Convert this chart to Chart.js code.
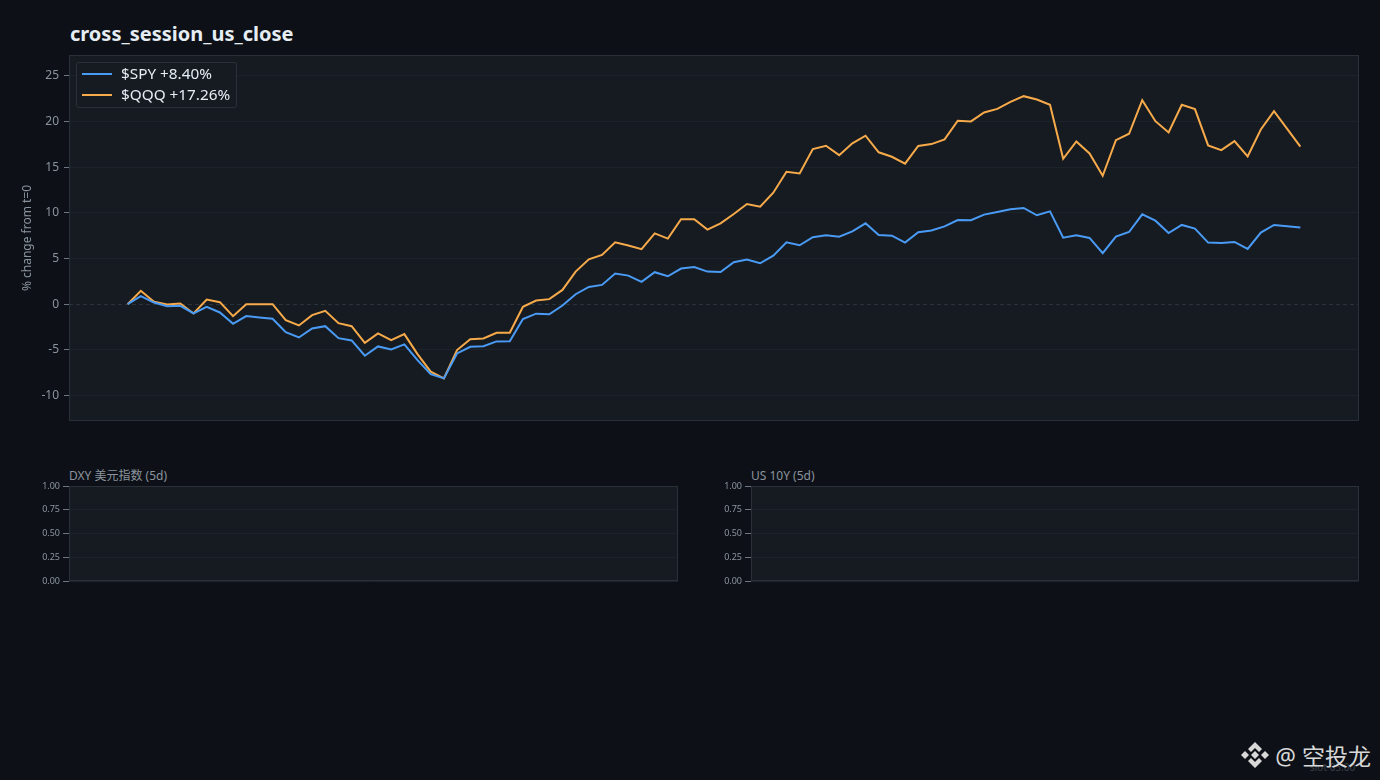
<!DOCTYPE html>
<html>
<head>
<meta charset="utf-8">
<title>cross_session_us_close</title>
<script src="https://cdn.jsdelivr.net/npm/chart.js@4.4.1/dist/chart.umd.min.js"></script>
<style>
  html, body { margin: 0; padding: 0; background: #0d1117; }
  body {
    width: 1380px; height: 780px; position: relative; overflow: hidden;
    font-family: 'Noto Sans', 'Noto Sans CJK SC', sans-serif;
  }
  .abs { position: absolute; }
  #title { left: 70px; top: 24px; font-size: 20px; line-height: 20px; font-weight: bold; color: #e6edf3; }
  .sub { font-size: 12px; line-height: 12px; color: #8b949e; top: 470px; }
  #legend {
    left: 76px; top: 62px; width: 159px; height: 44px;
    background: #161b22; border: 1px solid #2a3038; border-radius: 3px;
  }
  .item { display: flex; align-items: center; height: 21px; }
  .swatch { width: 30px; height: 2px; margin-left: 5px; margin-right: 9px; }
  .item span { font-size: 15.3px; color: #e6edf3; line-height: 21px; }
  #mark { right: 9px; top: 738px; font-size: 23px; color: #d8d8d8; display: flex; align-items: center; }
  #slot { left: 1310px; top: 760px; font-size: 10px; color: #3b4048; }
</style>
</head>
<body>
<div id="title" class="abs">cross_session_us_close</div>

<div class="abs" style="left:0; top:42px; width:1380px; height:392px;"><canvas id="mainChart"></canvas></div>
<div id="legend" class="abs"></div>

<div class="abs sub" style="left:69px;">DXY 美元指数 (5d)</div>
<div class="abs" style="left:0; top:476px; width:690px; height:115px;"><canvas id="dxyChart"></canvas></div>

<div class="abs sub" style="left:751px;">US 10Y (5d)</div>
<div class="abs" style="left:682px; top:476px; width:690px; height:115px;"><canvas id="tenChart"></canvas></div>

<div id="slot" class="abs">slot 05:00</div>
<div id="mark" class="abs">
  <svg width="28" height="28" viewBox="0 0 28 28" style="margin-right:6px">
    <g fill="#d8d8d8">
      <polygon points="14,1 21,8 18,11 14,7 10,11 7,8"/>
      <polygon points="14,27 21,20 18,17 14,21 10,17 7,20"/>
      <polygon points="4,10 8,14 4,18 0,14"/>
      <polygon points="24,10 28,14 24,18 20,14"/>
      <polygon points="14,10 18,14 14,18 10,14"/>
    </g>
  </svg>
  <span>@ 空投龙</span>
</div>

<script>
// session steps (t = 0 .. 89)
const steps = Array.from({length: 90}, (_, i) => i);

const seriesNames = ['$SPY', '$QQQ'];
const seriesColors = ['#4a9bf5', '#f7aa4a'];

// % change from t=0
const spyValues = [
  0, 0.88, 0.18, -0.22, -0.18, -1.02, -0.29, -0.91, -2.15, -1.31,
  -1.46, -1.6, -3.06, -3.65, -2.66, -2.41, -3.72, -3.97, -5.65, -4.63,
  -4.96, -4.41, -6.13, -7.66, -8.13, -5.4, -4.67, -4.6, -4.08, -4.05,
  -1.62, -1.04, -1.11, -0.15, 1.09, 1.89, 2.11, 3.35, 3.13, 2.44,
  3.5, 3.06, 3.9, 4.08, 3.57, 3.53, 4.59, 4.88, 4.48, 5.32,
  6.78, 6.45, 7.33, 7.55, 7.4, 7.98, 8.86, 7.58, 7.51, 6.75,
  7.88, 8.07, 8.52, 9.22, 9.19, 9.81, 10.1, 10.39, 10.54, 9.74,
  10.17, 7.29, 7.55, 7.26, 5.58, 7.4, 7.91, 9.84, 9.15, 7.8,
  8.68, 8.28, 6.75, 6.71, 6.82, 6.05, 7.84, 8.68, 8.53, 8.40
];
const qqqValues = [
  0, 1.46, 0.26, -0.04, 0.07, -1.02, 0.51, 0.22, -1.31, 0,
  0, 0, -1.75, -2.33, -1.2, -0.73, -2.08, -2.41, -4.23, -3.2,
  -3.94, -3.28, -5.47, -7.4, -8.13, -5.03, -3.83, -3.76, -3.14, -3.12,
  -0.28, 0.4, 0.55, 1.56, 3.57, 4.92, 5.39, 6.78, 6.42, 6.02,
  7.76, 7.18, 9.3, 9.3, 8.17, 8.86, 9.88, 10.97, 10.68, 12.21,
  14.51, 14.33, 16.99, 17.36, 16.33, 17.62, 18.46, 16.64, 16.15, 15.4,
  17.34, 17.54, 18.05, 20.1, 20.02, 21.0, 21.4, 22.17, 22.79, 22.43,
  21.84, 15.93, 17.83, 16.52, 14.07, 17.97, 18.67, 22.35, 20.05, 18.81,
  21.84, 21.37, 17.39, 16.88, 17.87, 16.19, 19.14, 21.15, 19.21, 17.26
];
const mainYTicks = [-10, -5, 0, 5, 10, 15, 20, 25];

// the two 5d panels have no data
const dxyValues = [];
const us10yValues = [];
const smallYTicks = [0, 0.25, 0.5, 0.75, 1];

Chart.defaults.font.family = "'Noto Sans', 'Noto Sans CJK SC', sans-serif";
Chart.defaults.animation = false;

const panelBg = {
  id: 'panelBg',
  beforeDraw(chart) {
    const {ctx, chartArea: a} = chart;
    ctx.save();
    ctx.fillStyle = '#161b22';
    ctx.fillRect(a.left, a.top, a.width, a.height);
    ctx.restore();
  },
  afterDatasetsDraw(chart) {
    const {ctx, chartArea: a} = chart;
    ctx.save();
    ctx.strokeStyle = '#2a3038';
    ctx.lineWidth = 1;
    ctx.strokeRect(a.left + 0.5, a.top + 0.5, a.width - 1, a.height - 1);
    ctx.restore();
  }
};

const zeroLine = {
  id: 'zeroLine',
  beforeDatasetsDraw(chart) {
    const {ctx, chartArea: a, scales} = chart;
    const y = Math.round(scales.y.getPixelForValue(0)) + 0.5;
    ctx.save();
    ctx.strokeStyle = '#2c323b';
    ctx.lineWidth = 1;
    ctx.setLineDash([4, 3]);
    ctx.beginPath();
    ctx.moveTo(a.left, y);
    ctx.lineTo(a.right, y);
    ctx.stroke();
    ctx.restore();
  }
};

const toPoints = vals => vals.map((v, i) => ({x: steps[i], y: v}));

new Chart(document.getElementById('mainChart'), {
  type: 'line',
  data: {
    datasets: [
      {label: seriesNames[0], data: toPoints(spyValues), borderColor: seriesColors[0]},
      {label: seriesNames[1], data: toPoints(qqqValues), borderColor: seriesColors[1]}
    ]
  },
  options: {
    responsive: true,
    maintainAspectRatio: false,
    layout: {padding: {left: 16, right: 21, top: 13, bottom: 13}},
    elements: {
      line: {borderWidth: 2, tension: 0},
      point: {radius: 0}
    },
    plugins: {legend: {display: false}, tooltip: {enabled: false}},
    scales: {
      x: {type: 'linear', min: -4.45, max: 93.45, display: false},
      y: {
        min: -12.8, max: 27.3,
        afterBuildTicks: s => { s.ticks = mainYTicks.map(v => ({value: v})); },
        afterFit: s => { s.width = 53; },
        ticks: {color: '#8b949e', font: {size: 12}, padding: 5},
        grid: {color: ctx => ctx.tick && ctx.tick.value === 0 ? 'rgba(0,0,0,0)' : '#1d232b',
               tickColor: '#6e7681', tickLength: 5},
        border: {display: false},
        title: {display: true, text: '% change from t=0', color: '#8b949e', font: {size: 12}}
      }
    }
  },
  plugins: [panelBg, zeroLine]
});

// HTML legend inside the plot, built from the series
const legend = document.getElementById('legend');
[spyValues, qqqValues].forEach((vals, i) => {
  const last = vals[vals.length - 1];
  const row = document.createElement('div');
  row.className = 'item';
  row.innerHTML = '<div class="swatch" style="background:' + seriesColors[i] + '"></div><span>' +
    seriesNames[i] + ' ' + (last >= 0 ? '+' : '') + last.toFixed(2) + '%</span>';
  legend.appendChild(row);
});

const smallChart = (id, vals, padRight) => new Chart(document.getElementById(id), {
  type: 'line',
  data: {datasets: [{data: toPoints(vals), borderColor: '#4a9bf5'}]},
  options: {
    responsive: true,
    maintainAspectRatio: false,
    layout: {padding: {left: 0, right: padRight, top: 10, bottom: 10}},
    plugins: {legend: {display: false}, tooltip: {enabled: false}},
    scales: {
      x: {type: 'linear', min: 0, max: 1, display: false},
      y: {
        min: 0, max: 1,
        afterBuildTicks: s => { s.ticks = smallYTicks.map(v => ({value: v})); },
        afterFit: s => { s.width = 69; },
        ticks: {color: '#8b949e', font: {size: 9}, padding: 3, callback: v => Number(v).toFixed(2)},
        grid: {color: '#1d232b', tickColor: '#6e7681', tickLength: 6},
        border: {display: false}
      }
    }
  },
  plugins: [panelBg]
});

smallChart('dxyChart', dxyValues, 12);
smallChart('tenChart', us10yValues, 13);
</script>
</body>
</html>
